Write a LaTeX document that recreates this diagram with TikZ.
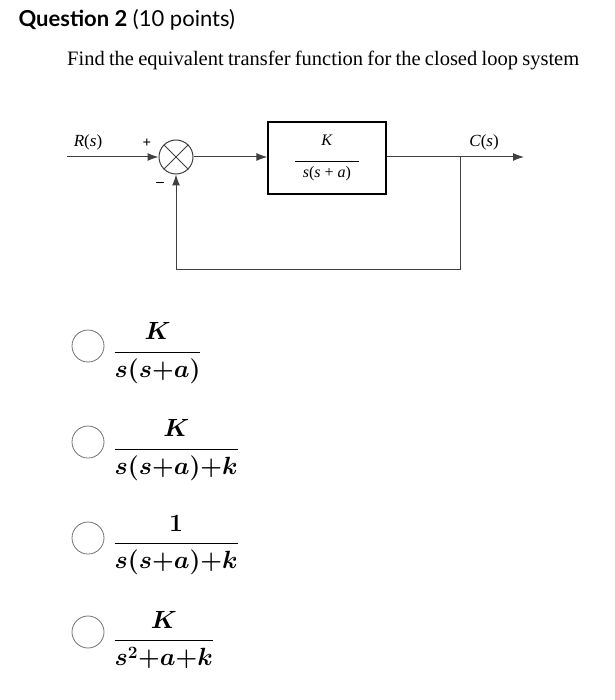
\documentclass[tikz,border=0pt]{standalone}
\usepackage{amsmath}
\usepackage{fontspec}
\setmainfont{Liberation Serif}
\newfontfamily\headfont{Lato}
\usetikzlibrary{arrows.meta}
\newcommand{\itl}[1]{\textit{#1}}
\begin{document}
\begin{tikzpicture}[x=1pt,y=-1pt,
	line/.style={line width=1pt, draw=black!75},
	flow/.style={line, -{Latex[length=11pt,width=8pt]}},
	radio/.style={circle, draw=black!55, line width=0.8pt, minimum size=32pt, inner sep=0pt},
	answer/.style={anchor=west, font=\fontsize{23}{26}\selectfont\boldmath}]
	
	\useasboundingbox (0,0) rectangle (614,700);
	
	\node[anchor=west, font=\headfont\fontsize{22}{25}\selectfont] (title) at (15,20) {\textbf{Question 2} (10 points)};
	\node[anchor=north west, inner sep=0pt, text width=512pt, align=justify, font=\fontsize{20.5}{23}\selectfont] (task) at (67,51) {Find the equivalent transfer function for the closed loop system\par};
	
	% block diagram
	\coordinate (in) at (67,157);
	\node[circle, line, minimum size=34pt, inner sep=0pt] (sum) at (176,157) {};
	\draw[line] (sum.north west) -- (sum.south east);
	\draw[line] (sum.south west) -- (sum.north east);
	\node[draw, line width=1.3pt, minimum width=118pt, minimum height=72pt, align=center, font=\fontsize{16}{18}\selectfont] (plant) at (327,158) {\itl{K}\\[-2pt]\rule{64pt}{0.8pt}\\[-2pt]\itl{s}(\itl{s} + \itl{a})};
	\coordinate (tap) at (460,157);
	\coordinate (out) at (524,157);
	\coordinate (down) at (460,269);
	\coordinate (back) at (176,269);
	
	\draw[flow] (in) -- (sum.west);
	\draw[flow] (sum.east) -- (plant.west |- sum.east);
	\draw[flow] (plant.east |- tap) -- (out);
	\draw[line] (tap) -- (down) -- (back);
	\draw[flow] (back) -- (sum.south);
	
	\node[font=\fontsize{17}{20}\selectfont] (rlab) at (88,142) {\itl{R}(\itl{s})};
	\node[font=\fontsize{17}{20}\selectfont] (clab) at (484,142) {\itl{C}(\itl{s})};
	\node[font=\fontsize{15}{17}\selectfont\bfseries] (plus) at (147,143) {+};
	\node[font=\fontsize{15}{17}\selectfont\bfseries] (minus) at (160,184) {--};
	
	% answer choices
	\node[radio] (r1) at (88,346) {};
	\node[answer] (a1) at (110,353) {$\dfrac{K}{s(s{+}a)}$};
	\node[radio] (r2) at (88,442) {};
	\node[answer] (a2) at (110,450) {$\dfrac{K}{s(s{+}a){+}k}$};
	\node[radio] (r3) at (88,538) {};
	\node[answer] (a3) at (110,545) {$\dfrac{1}{s(s{+}a){+}k}$};
	\node[radio] (r4) at (88,632) {};
	\node[answer] (a4) at (110,640) {$\dfrac{K}{s^2{+}a{+}k}$};
	
\end{tikzpicture}
\end{document}
